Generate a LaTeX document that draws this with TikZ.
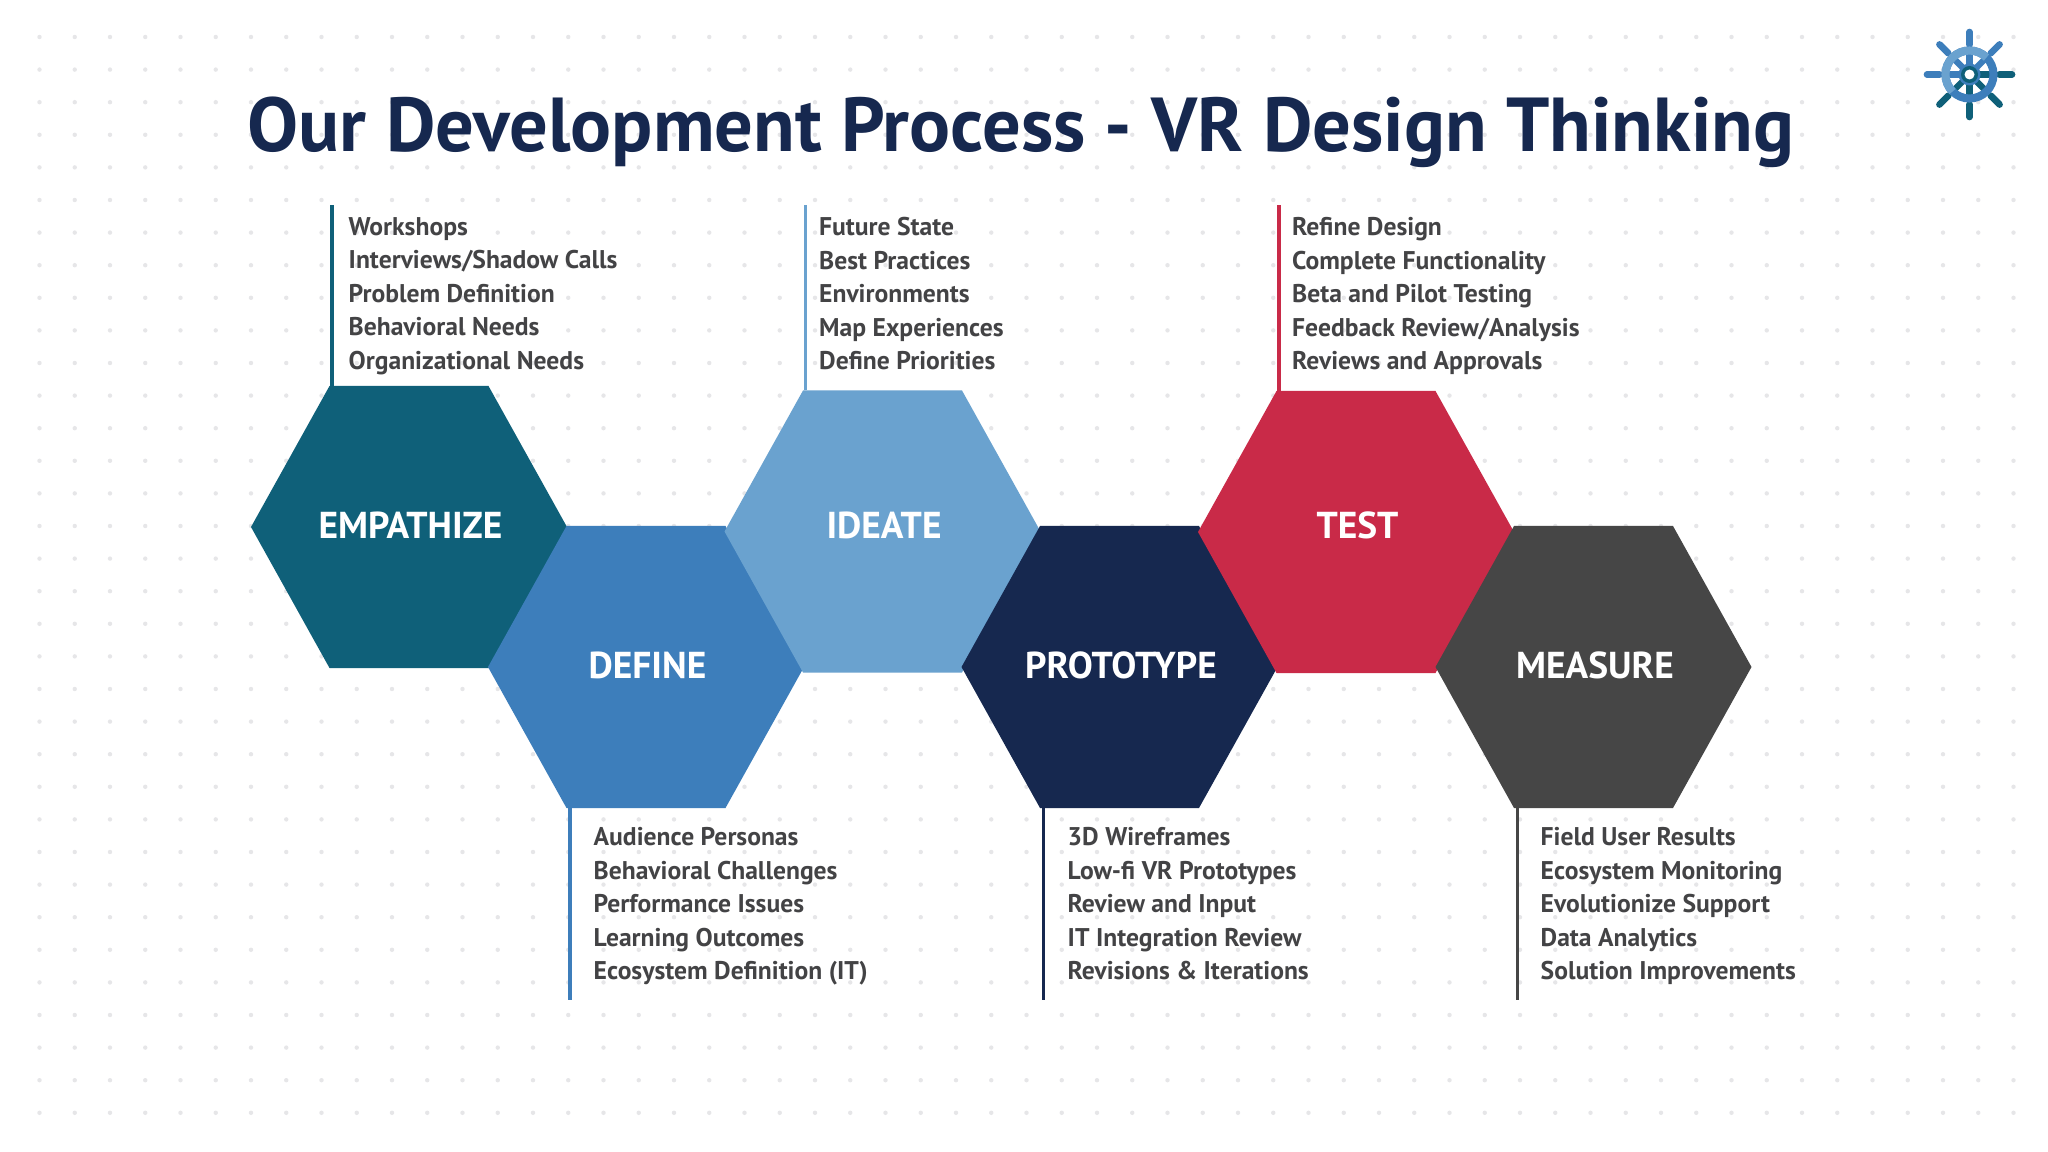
\documentclass[tikz,border=0pt]{standalone}
\usepackage{fontspec}
\setmainfont{PT Sans}
\usepackage{tikz}
\definecolor{bg}{HTML}{FFFFFF}
\definecolor{griddot}{HTML}{E6E6E8}
\definecolor{navy}{HTML}{16284F}
\definecolor{teal}{HTML}{0F6079}
\definecolor{midblue}{HTML}{3D7EBB}
\definecolor{skyblue}{HTML}{6AA2CF}
\definecolor{crimson}{HTML}{C92A48}
\definecolor{slate}{HTML}{464646}
\definecolor{bodytext}{HTML}{434345}
\tikzset{
  hexlabel/.style={anchor=base, text=white, font=\bfseries\fontsize{10.65pt}{12pt}\selectfont},
  listtext/.style={anchor=north west, align=left, inner sep=0pt, text=bodytext,
    font=\bfseries\fontsize{7.28pt}{9.56pt}\selectfont, execute at begin node=\strut},
  barline/.style={line width=1pt},
}
\begin{document}
\begin{tikzpicture}[x=0.01cm, y=-0.01cm]
\useasboundingbox (0,0) rectangle (2048,1152);
\fill[bg] (0,0) rectangle (2048,1152);
% dotted backdrop
\foreach \i in {0,...,56}{
  \foreach \j in {0,...,33}{
    \fill[griddot] (39.5+35.25*\i,37+32.6*\j) circle (2.2);
  }
}
\node[anchor=base, text=navy, font=\bfseries\fontsize{21.74pt}{26pt}\selectfont] (title) at (1021,152) {Our Development Process - VR Design Thinking};
% hexagons
\foreach \name/\cx/\cy/\ly/\col/\lab in {
  empathize/409/527/538.5/teal/EMPATHIZE,
  define/646/667/678/midblue/DEFINE,
  ideate/882.5/531.5/538.5/skyblue/IDEATE,
  prototype/1119.5/667/678/navy/PROTOTYPE,
  test/1356/532/538.5/crimson/TEST,
  measure/1593.5/667/678/slate/MEASURE}{
  \fill[\col] (\cx-158,\cy) -- (\cx-79.5,\cy-141) -- (\cx+79.5,\cy-141) -- (\cx+158,\cy)
    -- (\cx+79.5,\cy+141) -- (\cx-79.5,\cy+141) -- cycle;
  \coordinate (\name-tl) at (\cx-77,\cy-141);
  \coordinate (\name-bl) at (\cx-76,\cy+141);
  \node[hexlabel] (\name) at (\cx+1.5,\ly) {\lab};
}
% bars beside the lists
\coordinate (empathize-end) at (332,205);
\coordinate (ideate-end) at (805.5,205);
\coordinate (test-end) at (1279,205);
\coordinate (define-end) at (570,1000);
\coordinate (prototype-end) at (1043.5,1000);
\coordinate (measure-end) at (1517.5,1000);
\draw[barline, color=teal] (empathize-tl) -- (empathize-end);
\draw[barline, color=skyblue] (ideate-tl) -- (ideate-end);
\draw[barline, color=crimson] (test-tl) -- (test-end);
\draw[barline, color=midblue] (define-bl) -- (define-end);
\draw[barline, color=navy] (prototype-bl) -- (prototype-end);
\draw[barline, color=slate] (measure-bl) -- (measure-end);
% lists
\node[listtext] (empathize-list) at (348,216.5) {Workshops\\Interviews/Shadow Calls\\Problem Definition\\Behavioral Needs\\Organizational Needs};
\node[listtext] (ideate-list) at (818.5,216.5) {Future State\\Best Practices\\Environments\\Map Experiences\\Define Priorities};
\node[listtext] (test-list) at (1291.5,216.5) {Refine Design\\Complete Functionality\\Beta and Pilot Testing\\Feedback Review/Analysis\\Reviews and Approvals};
\node[listtext] (define-list) at (593,826.5) {Audience Personas\\Behavioral Challenges\\Performance Issues\\Learning Outcomes\\Ecosystem Definition (IT)};
\node[listtext] (prototype-list) at (1067,826.5) {3D Wireframes\\Low-fi VR Prototypes\\Review and Input\\IT Integration Review\\Revisions \& Iterations};
\node[listtext] (measure-list) at (1540,826.5) {Field User Results\\Ecosystem Monitoring\\Evolutionize Support\\Data Analytics\\Solution Improvements};
% ship wheel, top right
\begin{scope}[shift={(1969.5,74.5)}]
\foreach \a/\col in {0/teal,45/teal,90/teal,135/teal,180/midblue,225/midblue,270/midblue,315/midblue}{
  \draw[\col, line width=1.9pt, line cap=round] (\a:30) -- (\a:42.5);
  \draw[\col, line width=1.8pt] (\a:10) -- (\a:22);
}
\draw[midblue, line width=2.3pt] (0,0) circle (24);
\draw[skyblue, line width=2.3pt] (-17,17) arc (135:315:24);
\fill[midblue] (0,0) circle (11);
\fill[teal] (0,0) circle (8.5);
\fill[white] (0,0) circle (5);
\end{scope}
\end{tikzpicture}
\end{document}
